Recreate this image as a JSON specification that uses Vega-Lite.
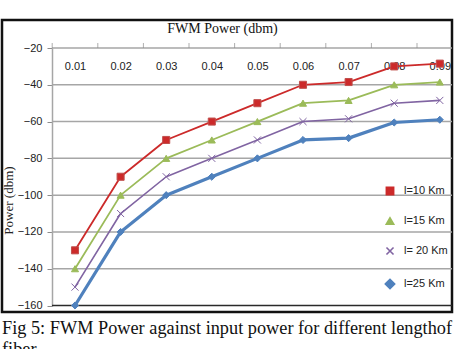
{
  "$schema": "https://vega.github.io/schema/vega-lite/v6.json",
  "width": 400,
  "height": 258,
  "autosize": "none",
  "padding": {"left": 52, "top": 48, "right": 22, "bottom": 43},
  "background": "white",
  "config": {
    "view": {"stroke": null},
    "font": "Liberation Sans",
    "axisX": {
      "orient": "top", "domain": false, "grid": false, "ticks": false,
      "values": [0.01, 0.02, 0.03, 0.04, 0.05, 0.06, 0.07, 0.08],
      "format": ".2f", "labelOverlap": false,
      "labelFont": "Liberation Sans", "labelFontSize": 11, "labelColor": "#222222",
      "labelBaseline": "middle", "labelPadding": -18,
      "titleFont": "Liberation Serif", "titleFontSize": 14, "titleFontWeight": "normal",
      "titleColor": "#111111", "titleX": 170, "titleY": -16,
      "titleAlign": "center", "titleBaseline": "alphabetic"
    },
    "axisY": {
      "orient": "left", "domain": true, "domainColor": "#a6a6a6", "domainWidth": 1.5,
      "grid": false, "labelOverlap": false,
      "ticks": true, "tickSize": 5, "tickColor": "#8c8c8c",
      "values": [-20, -40, -60, -80, -100, -120, -140, -160],
      "labelFont": "Liberation Sans", "labelFontSize": 11, "labelColor": "#222222",
      "labelPadding": 5,
      "titleFont": "Liberation Serif", "titleFontSize": 13,
      "titleFontWeight": "normal", "titleColor": "#222222",
      "titleX": -44, "titleY": 152, "titleAngle": 270,
      "titleAlign": "center", "titleBaseline": "middle"
    }
  },
  "title": {
    "text": ["Fig 5: FWM Power against input power for different lengthof", "fiber"],
    "orient": "bottom",
    "anchor": "start",
    "frame": "group",
    "font": "Liberation Serif",
    "fontSize": 18.3,
    "fontWeight": "normal",
    "color": "#111111",
    "lineHeight": 21,
    "offset": 7,
    "dx": -50
  },
  "datasets": {
    "pts": [
      {"x": 0.01, "series": "l=10 Km", "y": -130},
      {"x": 0.02, "series": "l=10 Km", "y": -90},
      {"x": 0.03, "series": "l=10 Km", "y": -70},
      {"x": 0.04, "series": "l=10 Km", "y": -60},
      {"x": 0.05, "series": "l=10 Km", "y": -50},
      {"x": 0.06, "series": "l=10 Km", "y": -40},
      {"x": 0.07, "series": "l=10 Km", "y": -38.5},
      {"x": 0.08, "series": "l=10 Km", "y": -30},
      {"x": 0.09, "series": "l=10 Km", "y": -28.5},
      {"x": 0.01, "series": "l=15 Km", "y": -140},
      {"x": 0.02, "series": "l=15 Km", "y": -100},
      {"x": 0.03, "series": "l=15 Km", "y": -80},
      {"x": 0.04, "series": "l=15 Km", "y": -70},
      {"x": 0.05, "series": "l=15 Km", "y": -60},
      {"x": 0.06, "series": "l=15 Km", "y": -50},
      {"x": 0.07, "series": "l=15 Km", "y": -48.5},
      {"x": 0.08, "series": "l=15 Km", "y": -40},
      {"x": 0.09, "series": "l=15 Km", "y": -38.5},
      {"x": 0.01, "series": "l= 20 Km", "y": -150},
      {"x": 0.02, "series": "l= 20 Km", "y": -110},
      {"x": 0.03, "series": "l= 20 Km", "y": -90},
      {"x": 0.04, "series": "l= 20 Km", "y": -80},
      {"x": 0.05, "series": "l= 20 Km", "y": -70},
      {"x": 0.06, "series": "l= 20 Km", "y": -60},
      {"x": 0.07, "series": "l= 20 Km", "y": -58.5},
      {"x": 0.08, "series": "l= 20 Km", "y": -50},
      {"x": 0.09, "series": "l= 20 Km", "y": -48.5},
      {"x": 0.01, "series": "l=25 Km", "y": -160},
      {"x": 0.02, "series": "l=25 Km", "y": -120},
      {"x": 0.03, "series": "l=25 Km", "y": -100},
      {"x": 0.04, "series": "l=25 Km", "y": -90},
      {"x": 0.05, "series": "l=25 Km", "y": -80},
      {"x": 0.06, "series": "l=25 Km", "y": -70},
      {"x": 0.07, "series": "l=25 Km", "y": -69},
      {"x": 0.08, "series": "l=25 Km", "y": -60.5},
      {"x": 0.09, "series": "l=25 Km", "y": -59}
    ],
    "grid": [
      {"y": -20}, {"y": -40}, {"y": -60}, {"y": -80}, {"y": -100},
      {"y": -120}, {"y": -140}, {"y": -160}
    ],
    "ticks": [
      {"x": 0.005, "y": -20}, {"x": 0.015, "y": -20}, {"x": 0.025, "y": -20},
      {"x": 0.035, "y": -20}, {"x": 0.045, "y": -20}, {"x": 0.055, "y": -20},
      {"x": 0.065, "y": -20}, {"x": 0.075, "y": -20}, {"x": 0.085, "y": -20}
    ],
    "frame": [{"x1": -0.006009, "x2": 0.092675, "y1": -4.78, "y2": -163.53}]
  },
  "layer": [
    {
      "data": {"name": "frame"},
      "mark": {"type": "rect", "fill": null, "fillOpacity": 0, "stroke": "#111111", "strokeWidth": 2.5, "clip": false},
      "encoding": {
        "x": {"field": "x1", "type": "quantitative", "title": "FWM Power (dbm)",
              "scale": {"domain": [0.004956, 0.092675], "nice": false, "zero": false}},
        "x2": {"field": "x2"},
        "y": {"field": "y1", "type": "quantitative", "title": "Power (dbm)",
              "scale": {"domain": [-160.27, -20], "nice": false, "zero": false}},
        "y2": {"field": "y2"}
      }
    },
    {
      "data": {"name": "grid"},
      "mark": {"type": "rule", "strokeWidth": 1.5},
      "encoding": {
        "y": {"field": "y", "type": "quantitative", "title": "Power (dbm)"},
        "x": {"datum": 0.004956, "type": "quantitative", "title": "FWM Power (dbm)"},
        "x2": {"datum": 0.092675},
        "color": {"condition": {"test": "datum.y === -160", "value": "#2a2a2a"}, "value": "#a6a6a6"}
      }
    },
    {
      "data": {"name": "ticks"},
      "mark": {"type": "tick", "orient": "vertical", "size": 5, "thickness": 1, "color": "#8c8c8c", "yOffset": -2.5},
      "encoding": {
        "x": {"field": "x", "type": "quantitative", "title": "FWM Power (dbm)"},
        "y": {"field": "y", "type": "quantitative", "title": "Power (dbm)"}
      }
    },
    {
      "data": {"name": "pts"},
      "mark": {"type": "line", "strokeJoin": "round"},
      "encoding": {
        "x": {"field": "x", "type": "quantitative", "title": "FWM Power (dbm)"},
        "y": {"field": "y", "type": "quantitative", "title": "Power (dbm)"},
        "color": {"field": "series", "type": "nominal",
                  "scale": {"domain": ["l=10 Km", "l=15 Km", "l= 20 Km", "l=25 Km"],
                            "range": ["#cc2a2a", "#9bbb59", "#8064a2", "#4f81bd"]}},
        "strokeWidth": {"field": "series", "type": "ordinal",
                        "scale": {"type": "ordinal", "domain": ["l=10 Km", "l=15 Km", "l= 20 Km", "l=25 Km"],
                                  "range": [1.8, 1.8, 1.6, 3.2]}}
      }
    },
    {
      "data": {"name": "pts"},
      "mark": {"type": "point", "filled": true, "size": 50, "opacity": 1, "strokeWidth": 1},
      "encoding": {
        "x": {"field": "x", "type": "quantitative", "title": "FWM Power (dbm)"},
        "y": {"field": "y", "type": "quantitative", "title": "Power (dbm)"},
        "color": {"field": "series", "type": "nominal",
                  "scale": {"domain": ["l=10 Km", "l=15 Km", "l= 20 Km", "l=25 Km"],
                            "range": ["#cc2a2a", "#9bbb59", "#8064a2", "#4f81bd"]},
                  "legend": {
                    "title": null, "orient": "none", "legendX": 332.5, "legendY": 137.5,
                    "padding": 0, "rowPadding": 15, "symbolSize": 50, "labelOffset": 8.5,
                    "symbolStrokeWidth": 1.2,
                    "labelFont": "Liberation Sans", "labelFontSize": 11, "labelColor": "#222222"
                  }},
        "stroke": {"field": "series", "type": "nominal",
                   "scale": {"domain": ["l=10 Km", "l=15 Km", "l= 20 Km", "l=25 Km"],
                             "range": ["#c0504d", "#9bbb59", "#8064a2", "#4f81bd"]}},
        "shape": {"field": "series", "type": "nominal",
                  "scale": {"domain": ["l=10 Km", "l=15 Km", "l= 20 Km", "l=25 Km"],
                            "range": ["square", "triangle-up", "M-1,-1L1,1M-1,1L1,-1", "diamond"]}}
      }
    }
  ]
}
